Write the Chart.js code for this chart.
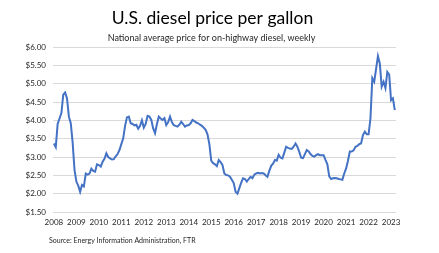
<!DOCTYPE html>
<html><head><meta charset="utf-8">
<script src="https://cdn.jsdelivr.net/npm/chart.js@4.4.1/dist/chart.umd.min.js"></script>
<style>html,body{margin:0;padding:0;background:#fff;overflow:hidden}canvas{display:block}</style>
</head><body>
<canvas id="c" width="439" height="253"></canvas>
<script>
const titleText = "U.S. diesel price per gallon";
const subtitleText = "National average price for on-highway diesel, weekly";
const sourceText = "Source: Energy Information Administration, FTR";

// tick labels
const yearTicks = [2008,2009,2010,2011,2012,2013,2014,2015,2016,2017,2018,2019,2020,2021,2022,2023];
const priceTicks = [1.5,2,2.5,3,3.5,4,4.5,5,5.5,6];

// monthly readings (USD per gallon), starting in January of each year
const p2008 = [3.37,3.27,3.90,4.05,4.20,4.70,4.76,4.60,4.10,3.92,3.40,2.65];
const p2009 = [2.33,2.22,2.05,2.24,2.20,2.55,2.52,2.55,2.68,2.62,2.60,2.80];
const p2010 = [2.78,2.74,2.87,2.95,3.10,3.00,2.96,2.93,2.94,3.02,3.08,3.19];
const p2011 = [3.35,3.51,3.85,4.08,4.10,3.92,3.90,3.86,3.88,3.77,3.85,4.00];
const p2012 = [3.80,3.90,4.12,4.10,4.01,3.78,3.65,3.90,4.10,4.05,4.01,4.06];
const p2013 = [3.87,3.95,4.10,3.95,3.87,3.85,3.83,3.88,3.96,3.90,3.83,3.86];
const p2014 = [3.87,3.92,4.01,3.98,3.94,3.92,3.88,3.85,3.80,3.74,3.62,3.35];
const p2015 = [2.90,2.83,2.80,2.75,2.92,2.86,2.78,2.55,2.51,2.50,2.46,2.38];
const p2016 = [2.29,2.05,2.00,2.15,2.30,2.42,2.40,2.33,2.40,2.46,2.42,2.52];
const p2017 = [2.55,2.57,2.55,2.56,2.55,2.50,2.46,2.62,2.76,2.82,2.92,2.90];
const p2018 = [3.06,2.98,2.96,3.12,3.28,3.25,3.23,3.22,3.28,3.37,3.28,3.14];
const p2019 = [2.98,2.97,3.08,3.19,3.15,3.08,3.03,3.01,3.05,3.08,3.05,3.05];
const p2020 = [3.05,2.92,2.80,2.47,2.40,2.42,2.43,2.42,2.40,2.39,2.38,2.55];
const p2021 = [2.69,2.90,3.15,3.15,3.18,3.28,3.30,3.35,3.37,3.60,3.69,3.62];
const p2022 = [3.62,4.05,5.15,5.05,5.40,5.75,5.55,4.92,5.05,4.88,5.32,5.25];
const p2023 = [4.55,4.60,4.28];

const yearSeries = [p2008,p2009,p2010,p2011,p2012,p2013,p2014,p2015,p2016,p2017,p2018,p2019,p2020,p2021,p2022,p2023];
const points = [];
yearSeries.forEach((arr, k) => {
  arr.forEach((v, i) => points.push({x: yearTicks[k] + i / 12, y: v}));
});

const FONT = "Lato, 'Open Sans', sans-serif";

const textPlugin = {
  id: 'texts',
  afterDraw(chart) {
    const ctx = chart.ctx;
    ctx.save();
    ctx.textBaseline = 'alphabetic';
    ctx.fillStyle = '#000000';
    ctx.textAlign = 'center';
    ctx.font = "17.5px " + FONT;
    ctx.fillText(titleText, 212.5, 23.5);
    ctx.fillStyle = '#262626';
    ctx.font = "9px " + FONT;
    ctx.fillText(subtitleText, 211.5, 40.5);
    ctx.textAlign = 'left';
    ctx.font = "7px " + FONT;
    ctx.fillStyle = '#262626';
    ctx.fillText(sourceText, 49, 243);
    ctx.restore();
  }
};

new Chart(document.getElementById('c'), {
  type: 'line',
  data: {
    datasets: [{
      data: points,
      borderColor: '#4472C4',
      borderWidth: 2,
      pointRadius: 0,
      tension: 0,
      fill: false
    }]
  },
  options: {
    responsive: false,
    animation: false,
    parsing: true,
    layout: {padding: {left: 0, right: 43, top: 47, bottom: 0}},
    plugins: {legend: {display: false}, tooltip: {enabled: false}, title: {display: false}},
    scales: {
      x: {
        type: 'linear',
        min: 2007.96,
        max: 2023.22,
        afterBuildTicks: s => { s.ticks = yearTicks.map(v => ({value: v})); },
        afterFit: s => { s.height = 41; },
        grid: {display: false, drawTicks: false},
        border: {display: false},
        ticks: {
          autoSkip: false,
          maxRotation: 0,
          padding: 6,
          color: '#262626',
          font: {family: FONT, size: 8},
          callback: v => String(v)
        }
      },
      y: {
        min: 1.5,
        max: 6,
        afterBuildTicks: s => { s.ticks = priceTicks.map(v => ({value: v})); },
        afterFit: s => { s.width = 53; },
        grid: {color: '#D9D9D9', lineWidth: 1, drawTicks: false},
        border: {display: false},
        ticks: {
          padding: 7,
          color: '#262626',
          font: {family: FONT, size: 8},
          callback: v => '$' + Number(v).toFixed(2)
        }
      }
    }
  },
  plugins: [textPlugin]
});
</script>
</body></html>
